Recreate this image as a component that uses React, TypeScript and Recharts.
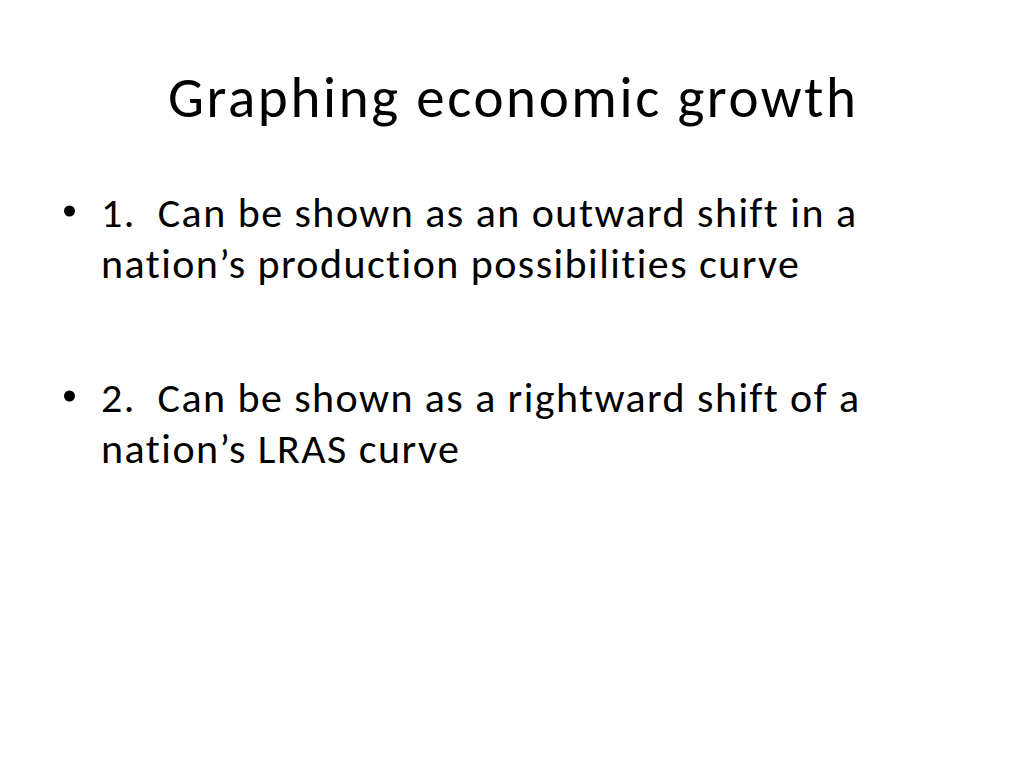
import { Surface } from 'recharts'

// slide content
const title = 'Graphing economic growth'
const bulletLines = [
  ['1.  Can be shown as an outward shift in a', 'nation\u2019s production possibilities curve'],
  ['2.  Can be shown as a rightward shift of a', 'nation\u2019s LRAS curve'],
]

const titleLayout = { x: 512, y: 117, size: 57, length: 688 }
const bulletTops = [227, 412]
const lineGap = 51
const lineLengths = [[755, 698], [758, 358]]

const FONT = 'Calibri, Carlito, Lato, sans-serif'
const noLig = { whiteSpace: 'pre' as const, fontVariantLigatures: 'none' as const }

export default function App() {
  return (
    <div style={{ position: 'fixed', top: 0, left: 0, width: 1024, height: 768, background: '#fff' }}>
      <Surface width={1024} height={768} viewBox={{ x: 0, y: 0, width: 1024, height: 768 }}>
        <rect x={0} y={0} width={1024} height={768} fill="#fff" />
        <text
          x={titleLayout.x}
          y={titleLayout.y}
          textAnchor="middle"
          fontFamily={FONT}
          fontSize={titleLayout.size}
          fill="#000"
          style={noLig}
          textLength={titleLayout.length}
          lengthAdjust="spacing"
        >
          {title}
        </text>
        {bulletLines.map((lines, i) => (
          <g key={i}>
            <circle cx={69.5} cy={bulletTops[i] - 16} r={5.5} fill="#000" />
            {lines.map((line, j) => (
              <text
                key={j}
                x={101}
                y={bulletTops[i] + j * lineGap}
                fontFamily={FONT}
                fontSize={42}
                fill="#000"
                style={noLig}
                textLength={lineLengths[i][j]}
                lengthAdjust="spacing"
              >
                {line}
              </text>
            ))}
          </g>
        ))}
      </Surface>
    </div>
  )
}
